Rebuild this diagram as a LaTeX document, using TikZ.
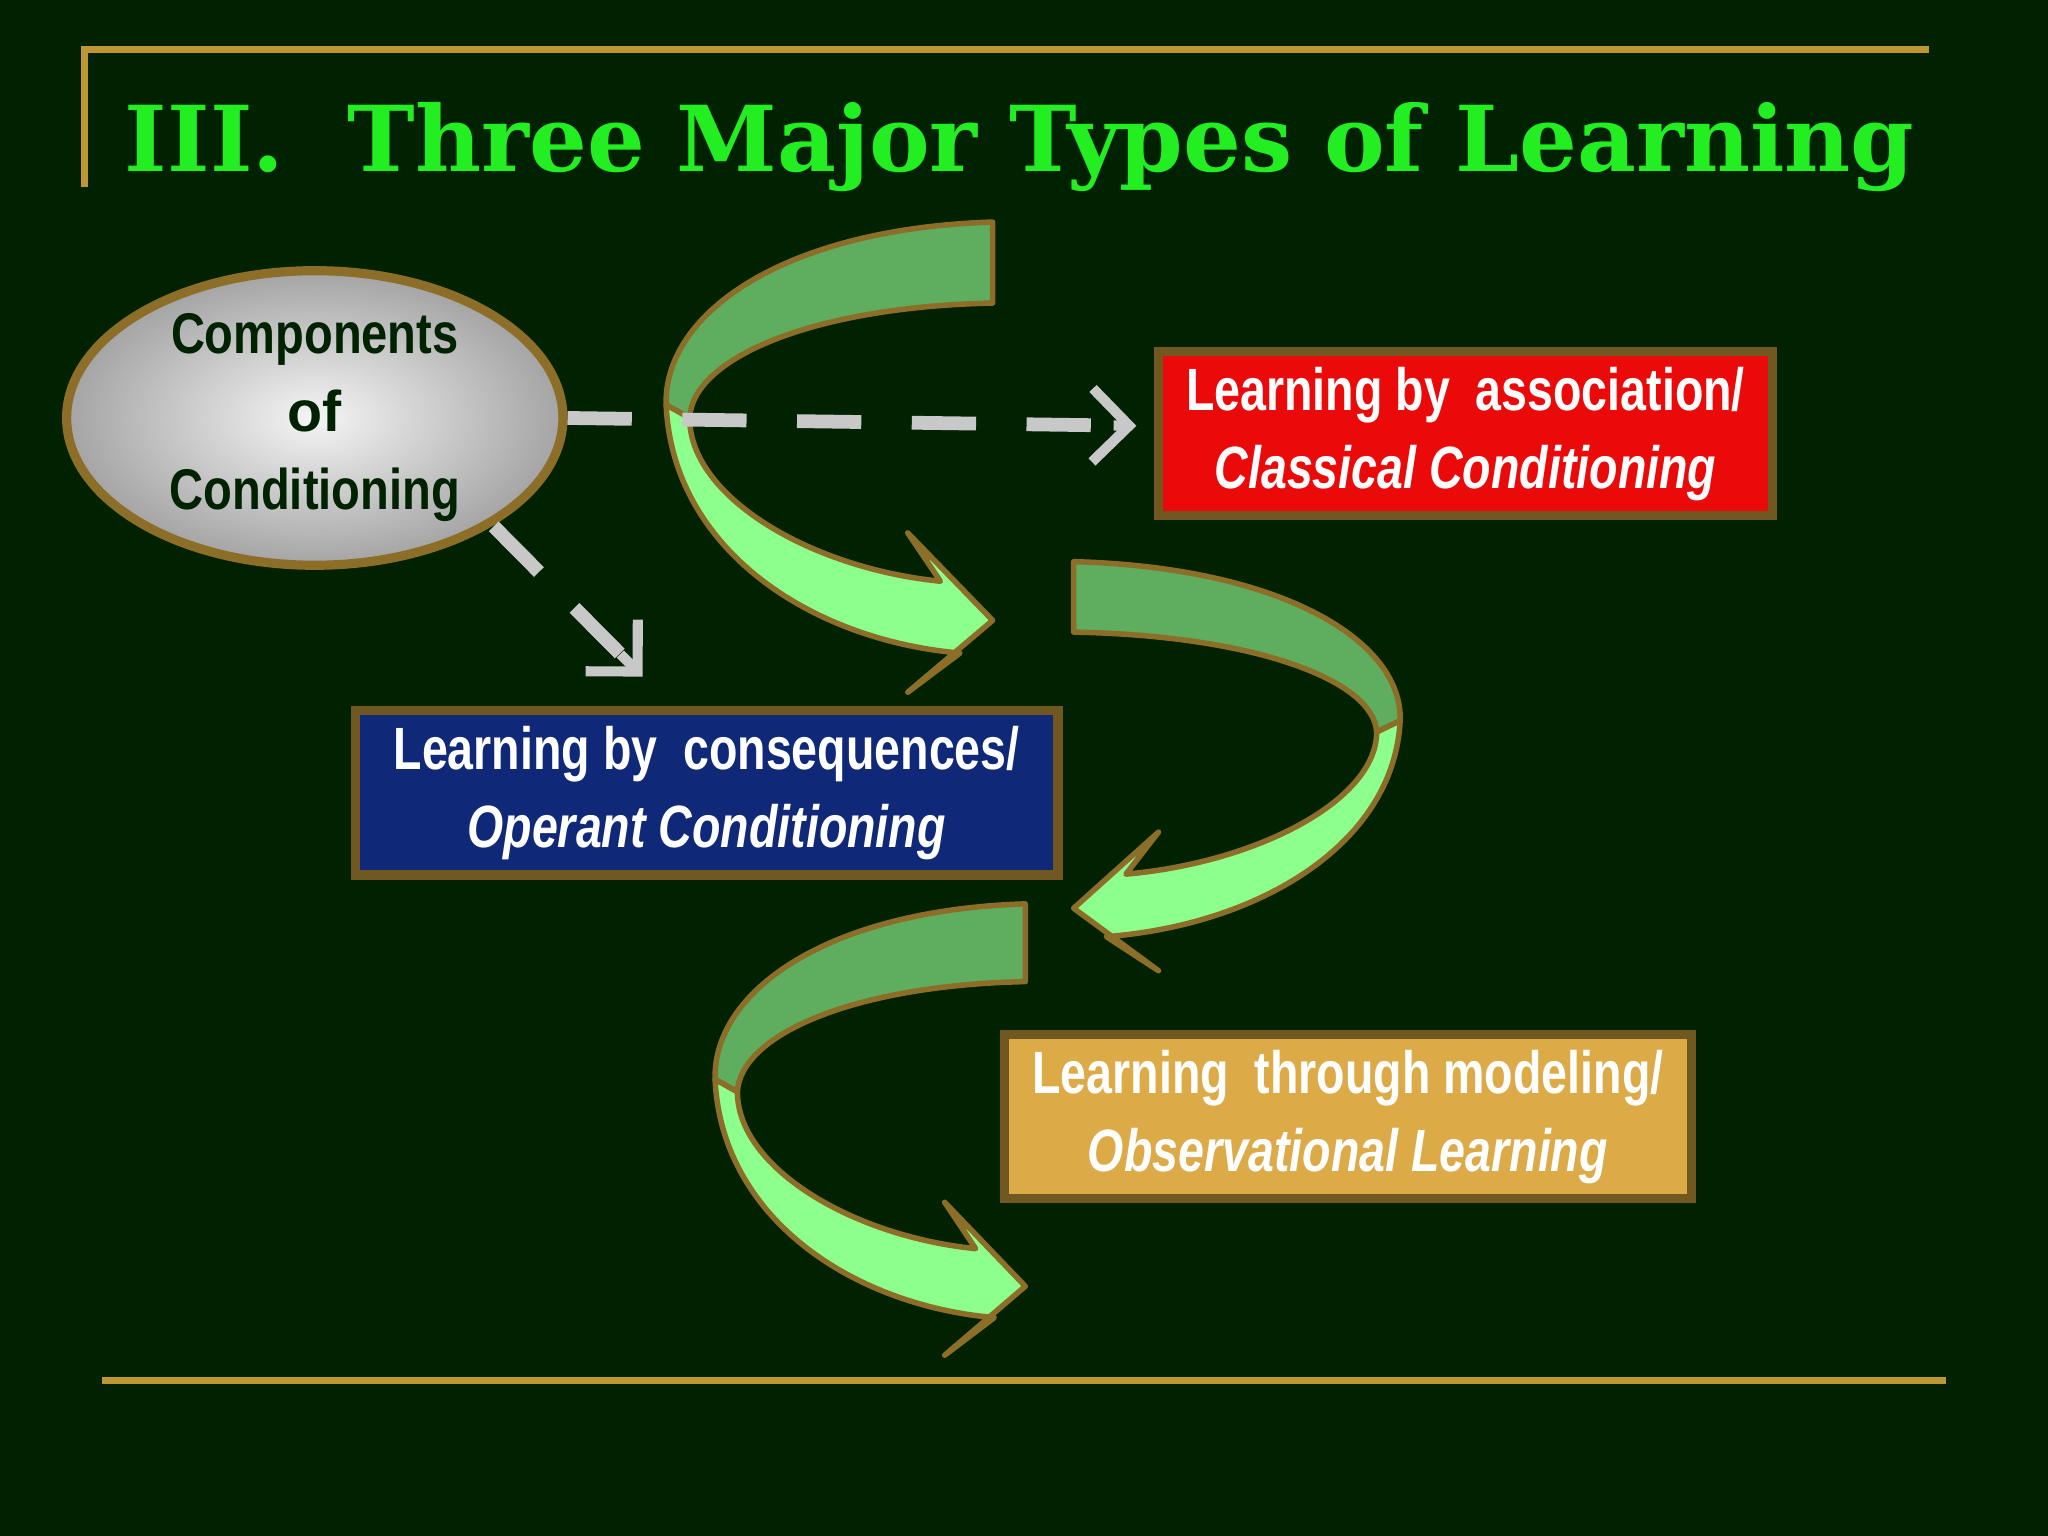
\documentclass[tikz,border=0pt]{standalone}
\usepackage{fontspec}
\setmainfont{Liberation Sans}
\newfontfamily\titlefont{DejaVu Serif}
\usetikzlibrary{arrows.meta,shapes.geometric,calc}
\definecolor{bg}{RGB}{0,34,0}
\definecolor{titlegreen}{RGB}{34,238,34}
\definecolor{goldline}{RGB}{190,150,50}
\definecolor{darkband}{RGB}{95,174,95}
\definecolor{lightband}{RGB}{140,255,140}
\definecolor{bandedge}{RGB}{140,110,40}
\definecolor{redbox}{RGB}{235,10,10}
\definecolor{bluebox}{RGB}{15,40,120}
\definecolor{goldbox}{RGB}{220,170,70}
\definecolor{ellgray}{RGB}{205,205,205}
\definecolor{dashgray}{RGB}{200,200,200}
\tikzset{
  band/.style={draw=bandedge,line width=1.2pt,line join=round},
  lbox/.style={draw=bandedge!80!black,line width=2pt,minimum height=1.2cm,text=white,font=\fontsize{13pt}{17pt}\selectfont\bfseries,align=center},
  dashcon/.style={draw=dashgray,line width=3pt,dash pattern=on 14pt off 11pt},
  tipcon/.style={draw=dashgray,line width=2.2pt,-{Straight Barb[length=8pt,width=16pt,line width=2.2pt]}}
}
\newcommand{\curvearrow}{%
  \fill[darkband,band] (0,0) .. controls (-160,5) and (-252,70) .. (-250,140) -- (-232,150) .. controls (-230,105) and (-140,65) .. (0,62) -- cycle;
  \fill[lightband,band] (-250,140) .. controls (-245,250) and (-140,320) .. (-25,330) -- (-65,360) -- (0,305) -- (-65,238) -- (-40,275) .. controls (-140,265) and (-232,210) .. (-232,150) -- cycle;
}
\begin{document}
\begin{tikzpicture}[x=0.1mm,y=-0.1mm]
\fill[bg] (0,0) rectangle (1568,1176);
\useasboundingbox (0,0) rectangle (1568,1176);
\draw[goldline,line width=1.5pt] (65,143) -- (65,38) -- (1477,38);
\draw[goldline,line width=1.5pt] (78,1057) -- (1490,1057);
\node[text=titlegreen,anchor=north west,inner sep=0pt] (title) at (95,78) {\resizebox{13.7cm}{!}{\titlefont\bfseries III.\ \ Three Major Types of Learning}};
\begin{scope}[shift={(760,170)}]\curvearrow\end{scope}
\begin{scope}[shift={(822,430)},xscale=-1,yscale=0.87]\curvearrow\end{scope}
\begin{scope}[shift={(785,692)},xscale=0.95,yscale=0.96]\curvearrow\end{scope}
\node[ellipse,inner sep=0pt,minimum width=3.8cm,minimum height=2.2cm,draw=bandedge,line width=2pt,inner color=white!92!gray,outer color=ellgray!80!black,align=center,font=\fontsize{12.5pt}{17pt}\selectfont\bfseries,text=bg] (comp) at (241,320) {\scalebox{0.82}[1]{Components}\\of\\\scalebox{0.82}[1]{Conditioning}};
\node[lbox,fill=redbox,minimum width=4.7cm] (assoc) at (1122,332) {\scalebox{0.78}[1]{Learning by\ \ association/}\\\scalebox{0.78}[1]{\itshape Classical Conditioning}};
\node[lbox,fill=bluebox,minimum width=5.38cm] (conseq) at (541,607) {\scalebox{0.78}[1]{Learning by\ \ consequences/}\\\scalebox{0.78}[1]{\itshape Operant Conditioning}};
\node[lbox,fill=goldbox,minimum width=5.26cm] (model) at (1032,855) {\scalebox{0.78}[1]{Learning\ \ through modeling/}\\\scalebox{0.78}[1]{\itshape Observational Learning}};
\coordinate (e1) at (870,326);
\coordinate (e2) at (492,518);
\draw[dashcon] (comp.east) -- (e1);
\draw[tipcon] ($(comp.east)!0.96!(e1)$) -- (e1);
\draw[dashcon] (378,403) -- (e2);
\draw[tipcon] ($(378,403)!0.85!(e2)$) -- (e2);
\end{tikzpicture}
\end{document}
